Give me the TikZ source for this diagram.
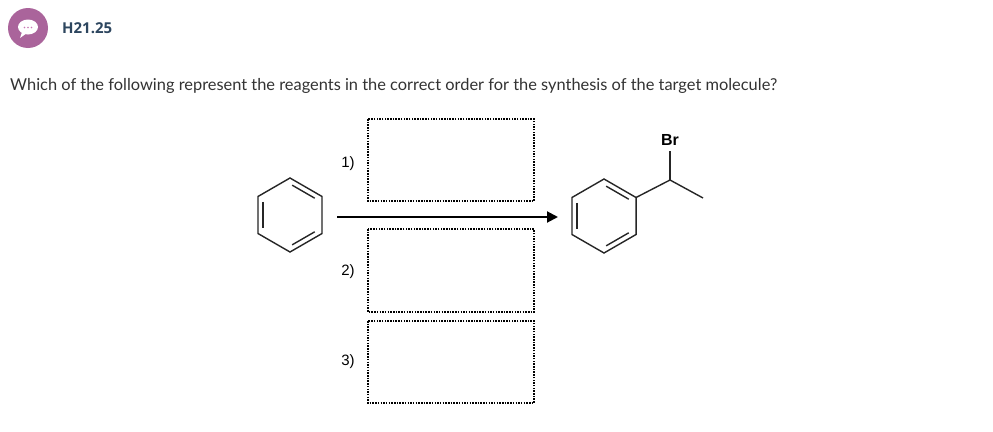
\documentclass[tikz,border=0pt]{standalone}
\usepackage{fontspec}
\usetikzlibrary{calc,arrows.meta}
\setmainfont{Lato}
\newfontfamily\arialf{Liberation Sans}
\newfontfamily\hdrf{Open Sans}
\definecolor{iconc}{RGB}{170,100,155}
\definecolor{dotc}{RGB}{200,120,180}
\definecolor{hdrc}{RGB}{45,70,95}
\begin{document}
\begin{tikzpicture}[x=1pt,y=-1pt,
  bond/.style={line width=1.4pt,black!85},
  dbox/.style={draw,dash pattern=on 1.5pt off 1.2pt,line width=1.8pt},
  lbl/.style={font=\arialf\fontsize{15}{15}\selectfont},
  every node/.style={inner sep=0pt}]
\useasboundingbox[fill=white] (0,0) rectangle (993,431);
% header
\fill[iconc] (28,28) circle (20);
\fill[white] (28,27) ellipse (10 and 7.5);
\fill[white] (22,32) -- (20,38) -- (27,33) -- cycle;
\foreach \dx in {-3.5,0,3.5} \fill[dotc] (28+\dx,27.5) circle (0.9);
\node[anchor=west,font=\hdrf\bfseries\fontsize{15}{15}\selectfont,text=hdrc] (hdr) at (62,28) {H21.25};
\node[anchor=west,font=\fontsize{16.4}{16.4}\selectfont,text=black!80] (q) at (10,86) {Which of the following represent the reagents in the correct order for the synthesis of the target molecule?};
% benzene 1
\coordinate (ca) at (290,215);
\foreach \i in {0,...,5}{\coordinate (a\i) at ($(ca)+(90+60*\i:37 and -37)$);}
\draw[bond] (a0)--(a1)--(a2)--(a3)--(a4)--(a5)--cycle;
\foreach \p/\q in {5/0,1/2,3/4}
  \draw[bond] ($(ca)!0.84!($(a\p)!0.08!(a\q)$)$) -- ($(ca)!0.84!($(a\p)!0.92!(a\q)$)$);
% arrow
\coordinate (s) at (337,217); \coordinate (e) at (558,217);
\draw[line width=2pt,-{Triangle[length=11pt,width=11pt]}] (s) -- (e);
% boxes
\draw[dbox] (368,119) rectangle (534,201);
\draw[dbox] (368,229) rectangle (534,312);
\draw[dbox] (368,321) rectangle (534,403);
\node[lbl] (l1) at (348,164) {1)};
\node[lbl] (l2) at (348,272) {2)};
\node[lbl] (l3) at (348,362) {3)};
% product
\coordinate (cb) at (604,216);
\foreach \i in {0,...,5}{\coordinate (b\i) at ($(cb)+(90+60*\i:37 and -37)$);}
\draw[bond] (b0)--(b1)--(b2)--(b3)--(b4)--(b5)--cycle;
\foreach \p/\q in {5/0,1/2,3/4}
  \draw[bond] ($(cb)!0.84!($(b\p)!0.08!(b\q)$)$) -- ($(cb)!0.84!($(b\p)!0.92!(b\q)$)$);
\coordinate (c1) at (670,180); \coordinate (c2) at (703,198);
\node[font=\arialf\fontsize{16}{16}\selectfont\bfseries] (br) at (670,140) {Br};
\coordinate (brb) at (670,151);
\draw[bond] (b5) -- (c1) -- (c2);
\draw[bond] (c1) -- (brb);
\end{tikzpicture}
\end{document}
